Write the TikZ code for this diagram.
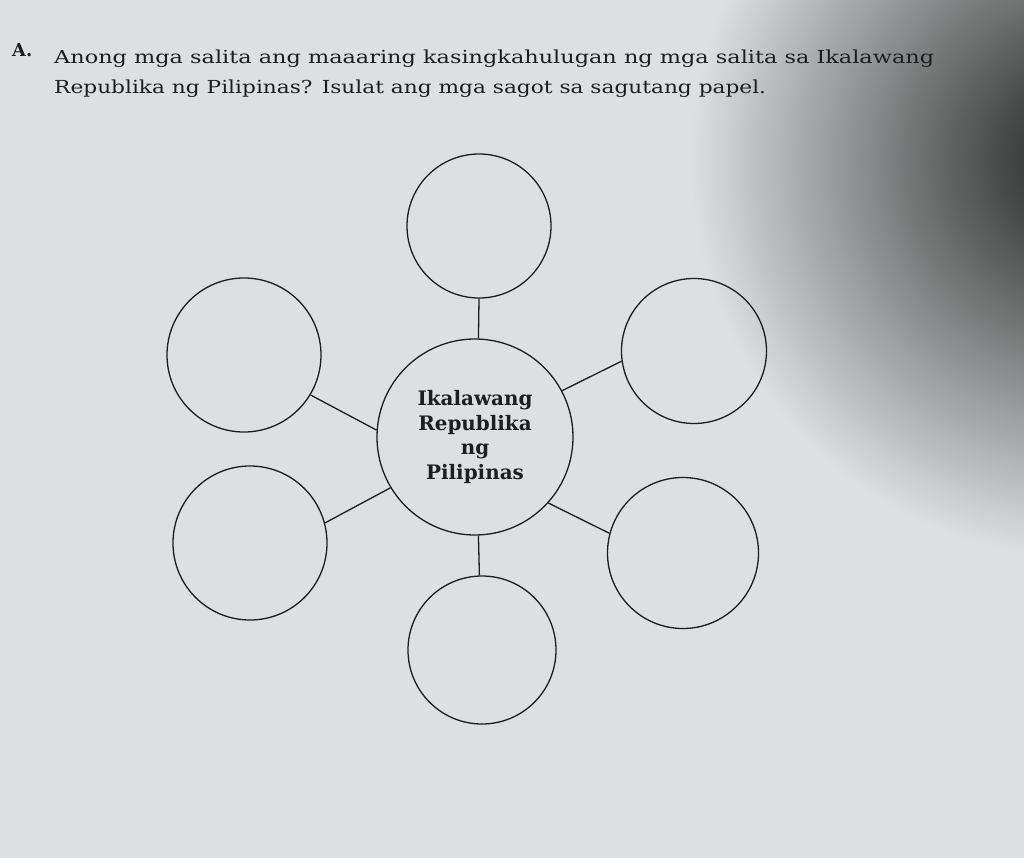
\documentclass[tikz,border=0pt]{standalone}
\usepackage{fontspec}
\setmainfont{DejaVu Serif}
\begin{document}
\begin{tikzpicture}[x=1bp,y=-1bp,
  bubble/.style={circle,draw=inkc,line width=1.3bp,inner sep=0pt},
  link/.style={draw=inkc,line width=1.3bp},
  qtext/.style={inner sep=0pt,anchor=base west,text=inkc,font=\fontsize{18}{22}\selectfont}]
\definecolor{paper}{RGB}{220,224,225}
\definecolor{inkc}{RGB}{30,30,32}
\useasboundingbox (0,0) rectangle (1024,858);
\fill[paper] (0,0) rectangle (1024,858);
\begin{scope}
\clip (0,0) rectangle (1024,858);
\shade[inner color=black!88,outer color=paper] (1090,160) circle (400);
\end{scope}
% question text
\node[qtext] (qa) at (12,56) {\textbf{A.}};
\node[qtext] (q) at (54,63) {\vtop{\baselineskip=30bp\lineskiplimit=-60bp
  \hbox{\resizebox{880bp}{\height}{Anong mga salita ang maaaring kasingkahulugan ng mga salita sa Ikalawang}}
  \hbox{\resizebox{712bp}{\height}{Republika ng Pilipinas? Isulat ang mga sagot sa sagutang papel.}}}};
% circles
\node[bubble,minimum size=196bp,font=\bfseries\fontsize{20}{25}\selectfont,align=center,text=inkc] (c) at (475,437) {Ikalawang\\Republika\\ng\\Pilipinas};
\node[bubble,minimum size=144bp] (t) at (479,226) {};
\node[bubble,minimum size=154bp] (ul) at (244,355) {};
\node[bubble,minimum size=145bp] (ur) at (694,351) {};
\node[bubble,minimum size=154bp] (ll) at (250,543) {};
\node[bubble,minimum size=151bp] (lr) at (683,553) {};
\node[bubble,minimum size=148bp] (b) at (482,650) {};
% links
\draw[link] (c.88) -- (t.-90);
\draw[link] (c.176) -- (ul.-31);
\draw[link] (c.28) -- (ur.188);
\draw[link] (c.211) -- (ll.15);
\draw[link] (c.-42) -- (lr.165);
\draw[link] (c.-88) -- (b.92);
\end{tikzpicture}
\end{document}
